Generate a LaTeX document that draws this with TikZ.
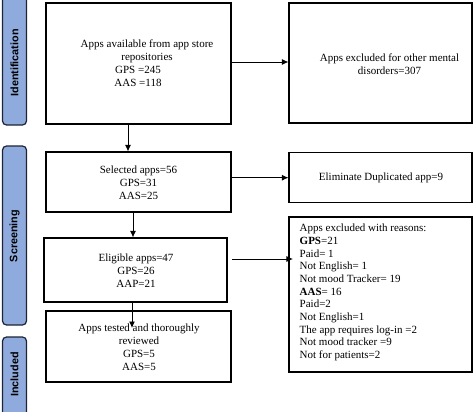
\documentclass[tikz,border=0pt]{standalone}
\usepackage{fontspec}
\setmainfont{Liberation Serif}
\setsansfont{Liberation Sans}
\usetikzlibrary{arrows.meta}

\begin{document}
\begin{tikzpicture}[x=1pt,y=-1pt,line cap=rect,
    box/.style={draw,line width=1.1pt,inner sep=0pt},
    txt/.style={align=center,inner sep=0pt,font=\fontsize{11}{13}\selectfont},
    arr/.style={->,line width=0.9pt,>={Latex[length=6.5pt,width=6pt]}},
    phase/.style={draw=phaseline,fill=phasefill,line width=1.2pt,rounded corners=4pt},
    phasetxt/.style={rotate=90,font=\sffamily\bfseries\fontsize{10.8}{12}\selectfont}]

    \definecolor{phasefill}{HTML}{8FAADC}
    \definecolor{phaseline}{HTML}{1C2436}

    \useasboundingbox (0,0) rectangle (474,412);

    % phases on the left
    \draw[phase] (2.5,-6) rectangle (26.5,125);
    \draw (14.5,63) node[phasetxt] {Identification};
    \draw[phase] (2.5,146) rectangle (26.5,325);
    \draw (14.5,236) node[phasetxt] {Screening};
    \draw[phase] (2.5,337) rectangle (26.5,424);
    \draw (14.5,374.5) node[phasetxt] {Included};

    % boxes
    \node[box,minimum width=185pt,minimum height=121pt] (avail) at (138.5,63.5) {};
    \node[txt] (availtxt) at (147,63.5) {Apps available from app store\\repositories\\\hspace*{-18pt}GPS =245\\\hspace*{-18pt}AAS =118};

    \node[box,minimum width=183pt,minimum height=120pt] (excl) at (380.5,63) {};
    \node[txt] (excltxt) at (389.5,64.5) {Apps excluded for other mental\\disorders=307};

    \node[box,minimum width=185pt,minimum height=60pt] (sel) at (138.5,182) {};
    \node[txt] (seltxt) at (138.5,183) {Selected apps=56\\GPS=31\\AAS=25};

    \node[box,minimum width=183pt,minimum height=50pt] (elim) at (380.5,177.7) {};
    \node[txt] (elimtxt) at (381,178) {Eliminate Duplicated app=9};

    \node[box,minimum width=183pt,minimum height=64pt] (elig) at (135.5,270) {};
    \node[txt] (eligtxt) at (136,271) {Eligible apps=47\\GPS=26\\AAP=21};

    \node[box,minimum width=183pt,minimum height=155pt] (reasons) at (380.5,294.5) {};
    \node[txt,align=left,anchor=west,font=\fontsize{11}{12.7}\selectfont] (reasonstxt) at (299.5,292.5)
        {Apps excluded with reasons:\\\textbf{GPS}=21\\Paid= 1\\Not English= 1\\Not mood Tracker= 19\\
         \textbf{AAS}= 16\\Paid=2\\Not English=1\\The app requires log-in =2\\Not mood tracker =9\\Not for patients=2};

    \node[box,minimum width=185pt,minimum height=71pt] (test) at (138.5,346.5) {};
    \node[txt] (testtxt) at (139,347.5) {Apps tested and thoroughly\\reviewed\\GPS=5\\AAS=5};

    % arrows
    \draw[arr] ([xshift=-10.5pt]avail.south) -- ([xshift=-10.5pt]avail.south |- sel.north);
    \draw[arr] ([yshift=1.5pt]avail.east) -- ([yshift=1.5pt]avail.east -| excl.west);
    \draw[arr] (elim.west -| sel.east) -- (elim.west);
    \draw[arr] ([xshift=-5.5pt]sel.south) -- ([xshift=-5.5pt]sel.south |- elig.north);
    \draw[arr] ([xshift=4.5pt,yshift=11pt]elig.east) -- ([xshift=4.5pt,yshift=11pt]elig.east -| reasons.west);
    \coordinate (testtip) at (132,328);
    \draw[arr] (elig.south -| testtip) -- (testtip);

\end{tikzpicture}
\end{document}
